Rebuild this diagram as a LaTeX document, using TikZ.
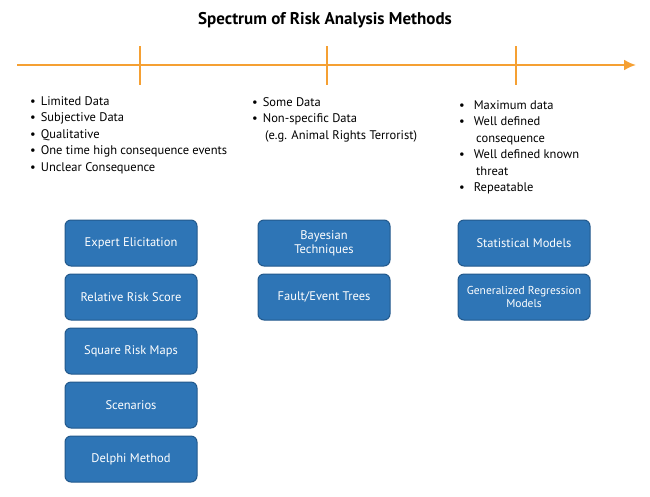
\documentclass[tikz,border=0pt]{standalone}
\usepackage{fontspec}
\usetikzlibrary{arrows.meta}
\setmainfont{PT Sans}
\begin{document}
\begin{tikzpicture}[x=1pt,y=-1pt,
  box/.style={draw=boxb,line width=1pt,fill=boxf,rounded corners=6pt,minimum width=132pt,minimum height=46pt,text=white,font=\fontsize{12.5}{14}\selectfont,align=center},
  lst/.style={anchor=north west,font=\fontsize{12.5}{16.5}\selectfont,align=left,inner sep=0pt},
  tick/.style={draw=orng,line width=2.2pt}]
\definecolor{orng}{HTML}{F5A033}
\definecolor{boxf}{HTML}{2E75B6}
\definecolor{boxb}{HTML}{22598C}
\useasboundingbox (0,0) rectangle (650,496);
\node[font=\bfseries\fontsize{17}{20}\selectfont] (title) at (325,20) {Spectrum of Risk Analysis Methods};
\coordinate (a0) at (17,65);
\coordinate (a1) at (636,65);
\draw[orng,line width=2.2pt,-{Latex[length=12pt,width=11pt]}] (a0) -- (a1);
\foreach \x/\n in {140/t1,327/t2,516/t3}{
  \coordinate (\n a) at (\x,46); \coordinate (\n b) at (\x,85);
  \draw[tick] (\n a) -- (\n b);}
\node[lst] (l1) at (30,96) {\textbullet\hspace{5pt}Limited Data\\\textbullet\hspace{5pt}Subjective Data\\\textbullet\hspace{5pt}Qualitative\\\textbullet\hspace{5pt}One time high consequence events\\\textbullet\hspace{5pt}Unclear Consequence};
\node[lst] (l2) at (252,97) {\textbullet\hspace{5pt}Some Data\\\textbullet\hspace{5pt}Non-specific Data\\\hspace{13pt}(e.g. Animal Rights Terrorist)};
\node[lst] (l3) at (459,100) {\textbullet\hspace{9pt}Maximum data\\\textbullet\hspace{9pt}Well defined\\\hspace{17pt}consequence\\\textbullet\hspace{9pt}Well defined known\\\hspace{17pt}threat\\\textbullet\hspace{9pt}Repeatable};
\node[box] (b1) at (131,243) {Expert Elicitation};
\node[box] (b2) at (131,297) {Relative Risk Score};
\node[box] (b3) at (131,351) {Square Risk Maps};
\node[box] (b4) at (131,405) {Scenarios};
\node[box] (b5) at (131,459) {Delphi Method};
\node[box] (m1) at (324,243) {Bayesian\\Techniques};
\node[box] (m2) at (324,297) {Fault/Event Trees};
\node[box] (r1) at (524,243) {Statistical Models};
\node[box,font=\fontsize{11.5}{13.5}\selectfont] (r2) at (524,297) {Generalized Regression\\Models};
\end{tikzpicture}
\end{document}
